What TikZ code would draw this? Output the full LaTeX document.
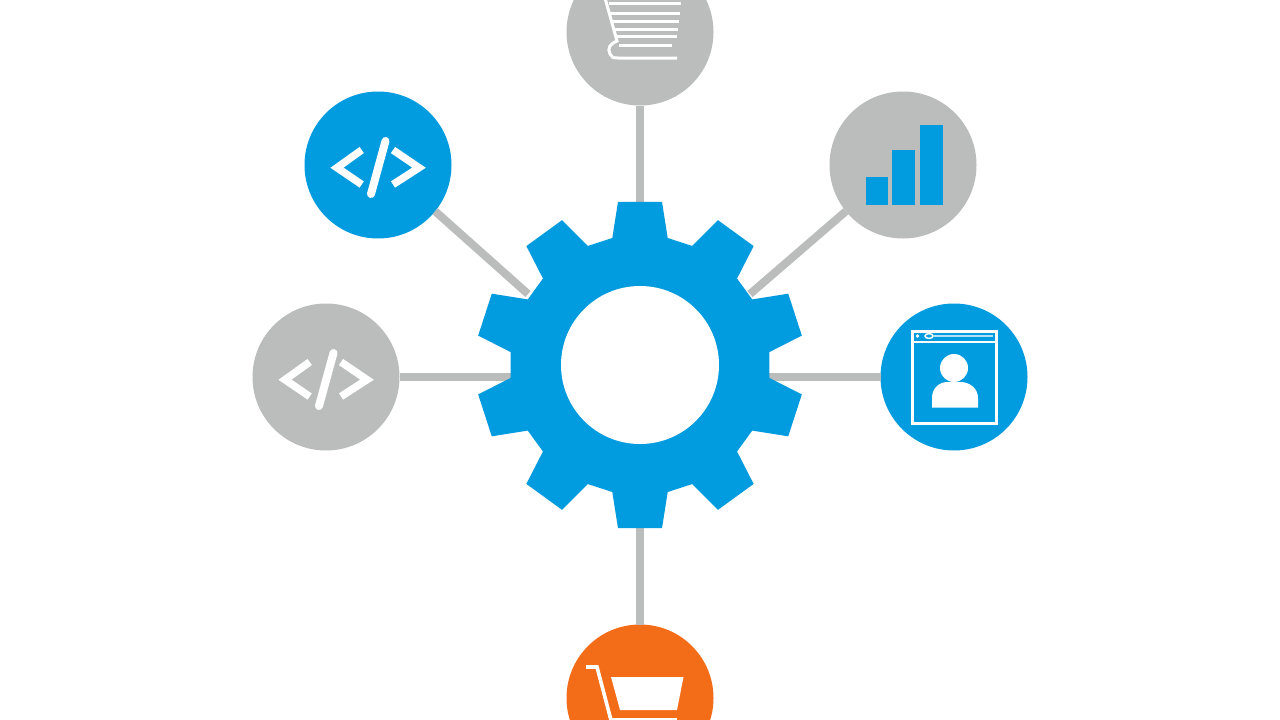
\documentclass[tikz,border=0pt]{standalone}
\definecolor{brandblue}{HTML}{009CDF}
\definecolor{softgrey}{HTML}{BBBCBC}
\definecolor{brandorange}{HTML}{F36C17}
\tikzset{
  sat/.style={circle,minimum size=147pt,inner sep=0pt,outer sep=0pt,line width=0pt},
  link/.style={softgrey,line width=8pt},
  codeicon/.pic={
    \draw[white,line width=7.5pt,miter limit=10] (-16.3,-15) -- (-41,2.7) -- (-16.3,19.5);
    \draw[white,line width=7.5pt,miter limit=10] (15,-15) -- (41,2.7) -- (15,19.5);
    \draw[white,line width=8pt,line cap=round] (7.5,-24) -- (-7,29);
  }
}
\begin{document}
\begin{tikzpicture}[x=1pt,y=-1pt]
\clip (0,0) rectangle (1280,720);
\fill[white] (0,0) rectangle (1280,720);
% satellites
\node[sat,fill=softgrey] (top) at (640,32) {};
\node[sat,fill=softgrey] (upright) at (903,165) {};
\node[sat,fill=brandblue] (right) at (954,377) {};
\node[sat,fill=brandorange] (bottom) at (640,698) {};
\node[sat,fill=softgrey] (left) at (326,377) {};
\node[sat,fill=brandblue] (upleft) at (378,165) {};
% connector ends on the gear
\coordinate (gtop) at (640,215);
\coordinate (gupright) at (750,294);
\coordinate (gright) at (765,377);
\coordinate (gbottom) at (640,515);
\coordinate (gleft) at (515,377);
\coordinate (gupleft) at (528,294);
\draw[link] (top) -- (gtop);
\draw[link] (upright.-141) -- (gupright);
\draw[link] (right) -- (gright);
\draw[link] (bottom) -- (gbottom);
\draw[link] (left) -- (gleft);
\draw[link] (upleft.-39) -- (gupleft);
% gear
\begin{scope}[shift={(640,365)}]
\fill[brandblue] (97.7:164.5)
  \foreach \a in {90,54,18,-18,-54,-90,-126,-162,-198,-234}{
    -- ({\a+7.7}:164.5) -- ({\a-7.7}:164.5) -- ({\a-12.3}:130) -- ({\a-23.7}:130)
  } -- cycle;
\end{scope}
\node[circle,fill=white,minimum size=158pt,inner sep=0pt] (hub) at (640,365) {};
% code icons
\pic at (upleft) {codeicon};
\pic at (left) {codeicon};
% bars
\fill[brandblue] (866,176.5) rectangle (888,204.5);
\fill[brandblue] (892,150) rectangle (915,204.5);
\fill[brandblue] (920,125) rectangle (942.5,204.5);
% window
\draw[white,line width=3pt] (912.5,331) rectangle (996,423);
\draw[white,line width=2.6pt] (912.5,342) -- (996,342);
\fill[white] (917.5,336) circle (1.8);
\draw[white,line width=1.5pt] (929,336) ellipse (4 and 2.4);
\draw[white!70!brandblue,line width=1.2pt] (933,336) -- (993,336);
\fill[white] (954,368) circle (14);
\fill[white] (932,407.5) -- (932,398) .. controls (932,389) and (938,383) .. (946,382) -- (962,382) .. controls (971,383) and (978,389) .. (978,398) -- (978,407.5) -- cycle;
% top icon
\begin{scope}[white,line width=3pt]
\draw (609,3) -- (681,3);
\draw (610,13) -- (680,13);
\draw (612,21) -- (679,21);
\draw (615,29) -- (678,29);
\draw (617,36) -- (677,36);
\draw (619,45) -- (672,45);
\draw (605,-2) -- (617,41) .. controls (610,44) and (607,48) .. (610,54) .. controls (611,57) and (613,58) .. (618,58) -- (677,58);
\end{scope}
% cart
\draw[white,line width=3.6pt] (586,667) -- (597,667) -- (612,724);
\fill[white] (611,677) -- (683.5,677) -- (677,710) -- (620,710) -- cycle;
\draw[white,line width=3pt] (610,719) -- (677,719);
\end{tikzpicture}
\end{document}
